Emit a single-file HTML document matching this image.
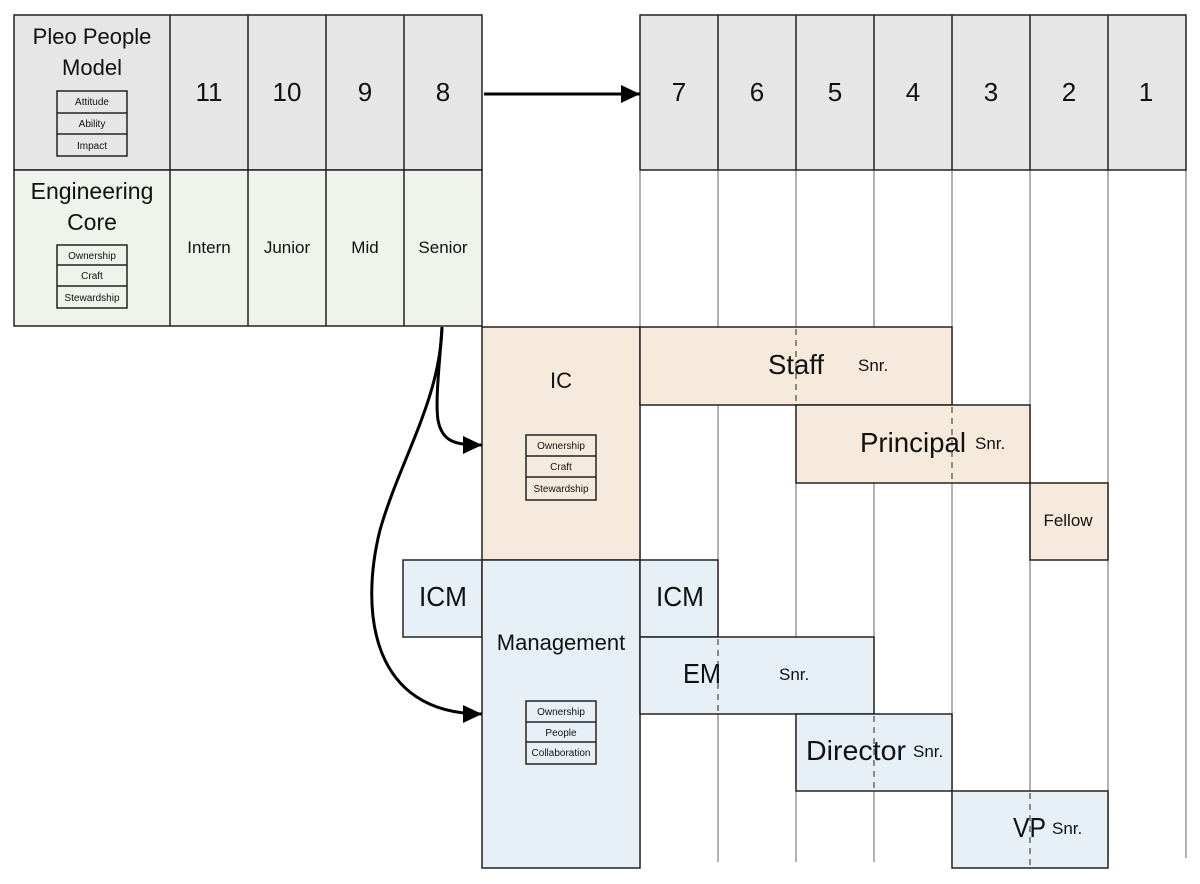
<!DOCTYPE html>
<html><head><meta charset="utf-8"><style>html,body{margin:0;padding:0;background:#fff}svg{display:block}text{font-family:"Liberation Sans",sans-serif;fill:#111}</style></head><body>
<svg width="1200" height="884" viewBox="0 0 1200 884" xmlns="http://www.w3.org/2000/svg">
<defs>
<marker id="ah2" markerWidth="20" markerHeight="20" refX="19" refY="9" orient="auto" markerUnits="userSpaceOnUse"><path d="M0,0 L19,9 L0,18 z" fill="#000"/></marker></defs>
<g stroke="#888" stroke-width="1.3">
<line x1="640" y1="170" x2="640" y2="862"/><line x1="718" y1="170" x2="718" y2="862"/><line x1="796" y1="170" x2="796" y2="862"/><line x1="874" y1="170" x2="874" y2="862"/><line x1="952" y1="170" x2="952" y2="862"/><line x1="1030" y1="170" x2="1030" y2="862"/><line x1="1108" y1="170" x2="1108" y2="862"/><line x1="1186" y1="170" x2="1186" y2="858"/>
</g>
<g stroke="#222" stroke-width="1.5">
<rect x="14" y="15" width="468" height="155" fill="#e6e6e6"/>
<rect x="14" y="170" width="468" height="156" fill="#eef3ec"/>
<line x1="170" y1="15" x2="170" y2="326"/><line x1="248" y1="15" x2="248" y2="326"/><line x1="326" y1="15" x2="326" y2="326"/><line x1="404" y1="15" x2="404" y2="326"/>
<rect x="640" y="15" width="546" height="155" fill="#e6e6e6"/>
<line x1="718" y1="15" x2="718" y2="170"/><line x1="796" y1="15" x2="796" y2="170"/><line x1="874" y1="15" x2="874" y2="170"/><line x1="952" y1="15" x2="952" y2="170"/><line x1="1030" y1="15" x2="1030" y2="170"/><line x1="1108" y1="15" x2="1108" y2="170"/>
<rect x="57" y="91" width="70" height="65" fill="#e6e6e6"/><line x1="57" y1="113" x2="127" y2="113"/><line x1="57" y1="134" x2="127" y2="134"/>
<rect x="57" y="245" width="70" height="63" fill="#eef3ec"/><line x1="57" y1="265" x2="127" y2="265"/><line x1="57" y1="286" x2="127" y2="286"/>
<rect x="482" y="327" width="158" height="233" fill="#f6eadd"/>
<rect x="640" y="327" width="312" height="78" fill="#f6eadd"/>
<rect x="796" y="405" width="234" height="78" fill="#f6eadd"/>
<rect x="1030" y="483" width="78" height="77" fill="#f6eadd"/>
<rect x="526" y="435" width="70" height="65" fill="#f6eadd"/><line x1="526" y1="456" x2="596" y2="456"/><line x1="526" y1="477" x2="596" y2="477"/>
<rect x="403" y="560" width="79" height="77" fill="#e8f0f7"/>
<rect x="482" y="560" width="158" height="308" fill="#e8f0f7"/>
<rect x="640" y="560" width="78" height="77" fill="#e8f0f7"/>
<rect x="640" y="637" width="234" height="77" fill="#e8f0f7"/>
<rect x="796" y="714" width="156" height="77" fill="#e8f0f7"/>
<rect x="952" y="791" width="156" height="77" fill="#e8f0f7"/>
<rect x="526" y="701" width="70" height="63" fill="#e8f0f7"/><line x1="526" y1="722" x2="596" y2="722"/><line x1="526" y1="742" x2="596" y2="742"/>
</g>
<g stroke="#555" stroke-width="1.3" stroke-dasharray="6,5">
<line x1="796" y1="329" x2="796" y2="404"/><line x1="952" y1="407" x2="952" y2="482"/><line x1="718" y1="639" x2="718" y2="713"/><line x1="874" y1="716" x2="874" y2="790"/><line x1="1030" y1="793" x2="1030" y2="867"/>
</g>
<line x1="484" y1="94" x2="640" y2="94" stroke="#000" stroke-width="3" marker-end="url(#ah2)"/>
<path d="M442,327 C440,360 435,400 438,420 C442,442 455,445 482,445" fill="none" stroke="#000" stroke-width="3" marker-end="url(#ah2)"/>
<path d="M442,327 C440,400 400,460 380,530 C360,610 370,714 482,714" fill="none" stroke="#000" stroke-width="3" marker-end="url(#ah2)"/>
<g text-anchor="middle">
<text x="92" y="44" font-size="22">Pleo People</text><text x="92" y="75" font-size="22">Model</text>
<text x="92" y="105" font-size="10">Attitude</text><text x="92" y="127" font-size="10">Ability</text><text x="92" y="149" font-size="10">Impact</text>
<text x="92" y="199" font-size="23">Engineering</text><text x="92" y="230" font-size="23">Core</text>
<text x="92" y="259" font-size="10">Ownership</text><text x="92" y="279" font-size="10">Craft</text><text x="92" y="301" font-size="10">Stewardship</text>
<g font-size="26"><text x="209" y="101">11</text><text x="287" y="101">10</text><text x="365" y="101">9</text><text x="443" y="101">8</text>
<text x="679" y="101">7</text><text x="757" y="101">6</text><text x="835" y="101">5</text><text x="913" y="101">4</text><text x="991" y="101">3</text><text x="1069" y="101">2</text><text x="1146" y="101">1</text></g>
<g font-size="17"><text x="209" y="253">Intern</text><text x="287" y="253">Junior</text><text x="365" y="253">Mid</text><text x="443" y="253">Senior</text></g>
<text x="561" y="388" font-size="22">IC</text>
<text x="561" y="449" font-size="10">Ownership</text><text x="561" y="470" font-size="10">Craft</text><text x="561" y="492" font-size="10">Stewardship</text>
<text x="561" y="650" font-size="22">Management</text>
<text x="561" y="715" font-size="10">Ownership</text><text x="561" y="736" font-size="10">People</text><text x="561" y="756" font-size="10">Collaboration</text>
<text x="1068" y="526" font-size="17">Fellow</text>
</g>
<g font-size="28">
<text x="768" y="374" textLength="56" lengthAdjust="spacingAndGlyphs">Staff</text>
<text x="860" y="452" textLength="106" lengthAdjust="spacingAndGlyphs">Principal</text>
<text x="419" y="606" textLength="48" lengthAdjust="spacingAndGlyphs">ICM</text>
<text x="656" y="606" textLength="48" lengthAdjust="spacingAndGlyphs">ICM</text>
<text x="683" y="683" textLength="38" lengthAdjust="spacingAndGlyphs">EM</text>
<text x="806" y="760" textLength="100" lengthAdjust="spacingAndGlyphs">Director</text>
<text x="1013" y="837" textLength="33" lengthAdjust="spacingAndGlyphs">VP</text>
</g>
<g font-size="17">
<text x="858" y="371">Snr.</text><text x="975" y="449">Snr.</text><text x="779" y="680">Snr.</text><text x="913" y="757">Snr.</text><text x="1052" y="834">Snr.</text>
</g>
</svg>
</body></html>
